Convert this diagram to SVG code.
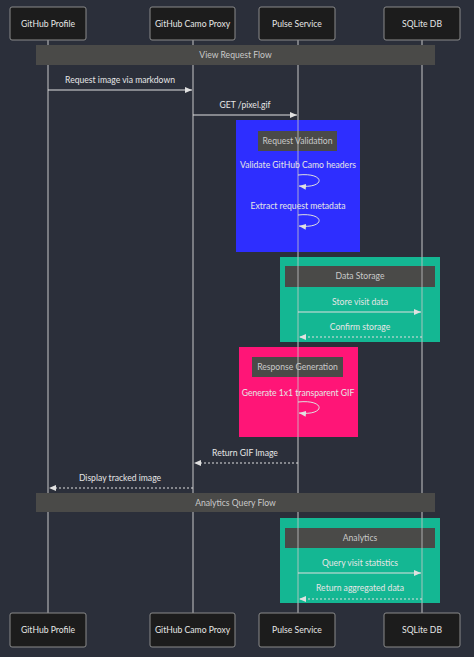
<svg xmlns="http://www.w3.org/2000/svg" width="474" height="657" viewBox="0 0 474 657">
<style>
text{font-family:Lato,"Liberation Sans","DejaVu Sans",sans-serif;font-size:8.6px;fill:#e6e6e6;text-anchor:middle;}
.actor{fill:#1c1c1c;stroke:#8a8a8a;stroke-width:1;}
.life{stroke:#c8c8c8;stroke-width:1;}
.note{fill:#4a4a48;}
.nt{fill:#c9c9c9;}
.msg{stroke:#e0e0e0;stroke-width:1;fill:none;}
.dash{stroke-dasharray:2,2;}
</style>
<defs>
<marker id="ah" markerWidth="8" markerHeight="8" refX="7" refY="4" orient="auto" markerUnits="userSpaceOnUse">
<path d="M0,1 L7,4 L0,7 z" fill="#e0e0e0"/>
</marker>
</defs>
<rect width="474" height="657" fill="#2b2f3a"/>
<g id="lifelines">
<line class="life" x1="48" y1="40" x2="48" y2="613"/>
<line class="life" x1="193" y1="40" x2="193" y2="613"/>
<line class="life" x1="298" y1="40" x2="298" y2="613"/>
<line class="life" x1="422" y1="40" x2="422" y2="613"/>
</g>
<g id="note-view"><rect class="note" x="36" y="45" width="399" height="20"/><text class="nt" x="235.5" y="58">View Request Flow</text></g>
<g id="box-validation"><rect x="236" y="120" width="124" height="132" fill="#2e2eff"/>
<rect class="note" x="258" y="131" width="79" height="20"/><text class="nt" x="297.5" y="144">Request Validation</text></g>
<g id="box-storage"><rect x="280" y="257" width="160" height="85" fill="#14b793"/>
<rect class="note" x="285" y="266" width="150" height="21"/><text class="nt" x="360" y="279">Data Storage</text></g>
<g id="box-response"><rect x="239" y="347" width="119" height="90" fill="#ff1577"/>
<rect class="note" x="252" y="357" width="91" height="20"/><text class="nt" x="297.5" y="370">Response Generation</text></g>
<g id="note-analytics-flow"><rect class="note" x="36" y="493" width="399" height="19"/><text class="nt" x="235.5" y="506">Analytics Query Flow</text></g>
<g id="box-analytics"><rect x="280" y="518" width="160" height="85" fill="#14b793"/>
<rect class="note" x="285" y="528" width="150" height="20"/><text class="nt" x="360" y="541">Analytics</text></g>
<g id="lifelines-over">
<line class="life" x1="298" y1="120" x2="298" y2="252" stroke-opacity="0.8"/>
<line class="life" x1="298" y1="257" x2="298" y2="342" stroke-opacity="0.8"/>
<line class="life" x1="422" y1="257" x2="422" y2="342" stroke-opacity="0.8"/>
<line class="life" x1="298" y1="347" x2="298" y2="437" stroke-opacity="0.8"/>
<line class="life" x1="298" y1="518" x2="298" y2="603" stroke-opacity="0.8"/>
<line class="life" x1="422" y1="518" x2="422" y2="603" stroke-opacity="0.8"/>
</g>
<g id="connectors">
<line class="msg" x1="48" y1="90" x2="192" y2="90" marker-end="url(#ah)"/>
<text x="120" y="83">Request image via markdown</text>
<line class="msg" x1="193" y1="115" x2="297" y2="115" marker-end="url(#ah)"/>
<text x="245" y="108">GET /pixel.gif</text>
<text x="298" y="168">Validate GitHub Camo headers</text>
<path class="msg" d="M298,175 C326,172 326,189 299,186" marker-end="url(#ah)"/>
<text x="298" y="209">Extract request metadata</text>
<path class="msg" d="M298,215 C326,212 326,229 299,226" marker-end="url(#ah)"/>
<line class="msg" x1="298" y1="312" x2="421" y2="312" marker-end="url(#ah)"/>
<text x="360" y="305">Store visit data</text>
<line class="msg dash" x1="422" y1="337" x2="299" y2="337" marker-end="url(#ah)"/>
<text x="360" y="330">Confirm storage</text>
<text x="298" y="396">Generate 1x1 transparent GIF</text>
<path class="msg" d="M298,402 C326,399 326,416 299,413" marker-end="url(#ah)"/>
<line class="msg dash" x1="298" y1="463" x2="194" y2="463" marker-end="url(#ah)"/>
<text x="245" y="456">Return GIF Image</text>
<line class="msg dash" x1="193" y1="488" x2="49" y2="488" marker-end="url(#ah)"/>
<text x="120" y="481">Display tracked image</text>
<line class="msg" x1="298" y1="573" x2="421" y2="573" marker-end="url(#ah)"/>
<text x="360" y="566">Query visit statistics</text>
<line class="msg dash" x1="422" y1="599" x2="299" y2="599" marker-end="url(#ah)"/>
<text x="360" y="591">Return aggregated data</text>
</g>
<g id="actor-profile-top"><rect class="actor" x="10" y="7" width="76" height="33" rx="2"/><text x="48" y="27">GitHub Profile</text></g>
<g id="actor-camo-top"><rect class="actor" x="150" y="7" width="85" height="33" rx="2"/><text x="192.5" y="27">GitHub Camo Proxy</text></g>
<g id="actor-pulse-top"><rect class="actor" x="259" y="7" width="76" height="33" rx="2"/><text x="297" y="27">Pulse Service</text></g>
<g id="actor-sqlite-top"><rect class="actor" x="384" y="7" width="76" height="33" rx="2"/><text x="422" y="27">SQLite DB</text></g>
<g id="actor-profile-bottom"><rect class="actor" x="10" y="613" width="76" height="34" rx="2"/><text x="48" y="633">GitHub Profile</text></g>
<g id="actor-camo-bottom"><rect class="actor" x="150" y="613" width="85" height="34" rx="2"/><text x="192.5" y="633">GitHub Camo Proxy</text></g>
<g id="actor-pulse-bottom"><rect class="actor" x="259" y="613" width="76" height="34" rx="2"/><text x="297" y="633">Pulse Service</text></g>
<g id="actor-sqlite-bottom"><rect class="actor" x="384" y="613" width="76" height="34" rx="2"/><text x="422" y="633">SQLite DB</text></g>
</svg>
